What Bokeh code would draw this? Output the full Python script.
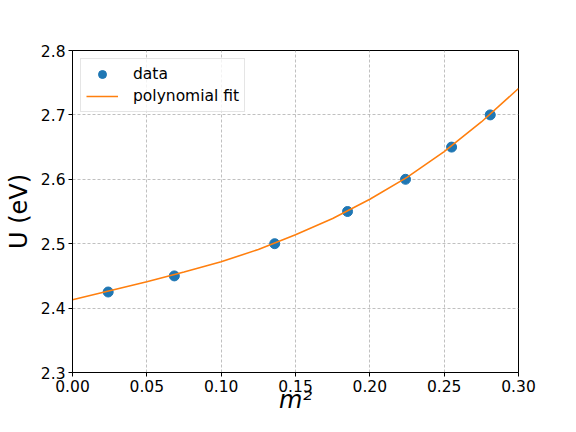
from bokeh.plotting import figure
from bokeh.models import Range1d, FixedTicker, Legend, LegendItem
from bokeh.embed import file_html
from bokeh.resources import INLINE

# measured points
m2 = [0.024, 0.0685, 0.136, 0.185, 0.224, 0.255, 0.281]
u_ev = [2.425, 2.45, 2.50, 2.55, 2.60, 2.65, 2.70]

# fitted curve
fit_x = [0.0, 0.025, 0.05, 0.075, 0.1, 0.125, 0.15, 0.175, 0.2, 0.225, 0.25, 0.275, 0.3]
fit_y = [2.413, 2.427, 2.441, 2.456, 2.472, 2.491, 2.514, 2.539, 2.569, 2.603, 2.643, 2.689, 2.741]

x_ticks = [0.0, 0.05, 0.10, 0.15, 0.20, 0.25, 0.30]
y_ticks = [2.3, 2.4, 2.5, 2.6, 2.7, 2.8]

FONT = "DejaVu Sans"

p = figure(
    width=560, height=416,
    x_range=Range1d(0, 0.3), y_range=Range1d(2.3, 2.8),
    output_backend="svg", toolbar_location=None,
    min_border_left=72, min_border_right=42,
    min_border_top=50, min_border_bottom=44,
)
p.background_fill_color = "white"
p.border_fill_color = "white"
p.outline_line_color = "black"
p.outline_line_width = 1

p.xaxis.ticker = FixedTicker(ticks=x_ticks)
p.yaxis.ticker = FixedTicker(ticks=y_ticks)
p.xaxis.major_label_overrides = {t: f"{t:.2f}" for t in x_ticks}
p.yaxis.major_label_overrides = {t: f"{t:.1f}" for t in y_ticks}

for ax in (p.xaxis, p.yaxis):
    ax.axis_line_color = "black"
    ax.major_tick_line_color = "black"
    ax.major_tick_in = 0
    ax.major_tick_out = 4
    ax.minor_tick_line_color = None
    ax.major_label_text_font = FONT
    ax.major_label_text_font_size = "15.5px"
    ax.major_label_text_color = "black"
    ax.major_label_standoff = 3
    ax.axis_label_text_font = FONT
    ax.axis_label_text_font_size = "24px"
    ax.axis_label_text_color = "black"
    ax.axis_label_text_font_style = "normal"

p.yaxis.axis_label = "U (eV)"
p.yaxis.axis_label_standoff = 5

# x label pulled a bit into the tick label area so it fits the window
p.xaxis.axis_label = "m²"
p.xaxis.axis_label_text_font_style = "italic"
p.xaxis.axis_label_standoff = -9

for g in (p.xgrid, p.ygrid):
    g.grid_line_color = "#b0b0b0"
    g.grid_line_dash = "3 2"
    g.grid_line_width = 0.8

dots = p.scatter(m2, u_ev, size=10, color="#1f77b4")
fit = p.line(fit_x, fit_y, line_width=1.6, color="#ff7f0e")

legend = Legend(
    items=[LegendItem(label="data", renderers=[dots]),
           LegendItem(label="polynomial fit", renderers=[fit])],
    location="top_left",
)
legend.margin = 8
legend.padding = 5
legend.spacing = 2
legend.glyph_width = 32
legend.glyph_height = 20
legend.label_height = 20
legend.label_standoff = 15
legend.label_text_font = FONT
legend.label_text_font_size = "15.5px"
legend.label_text_color = "black"
legend.border_line_color = "#cccccc"
legend.border_line_width = 1
legend.background_fill_color = "white"
legend.background_fill_alpha = 0.8
p.add_layout(legend)

open("out.html", "w").write(file_html(p, INLINE))
